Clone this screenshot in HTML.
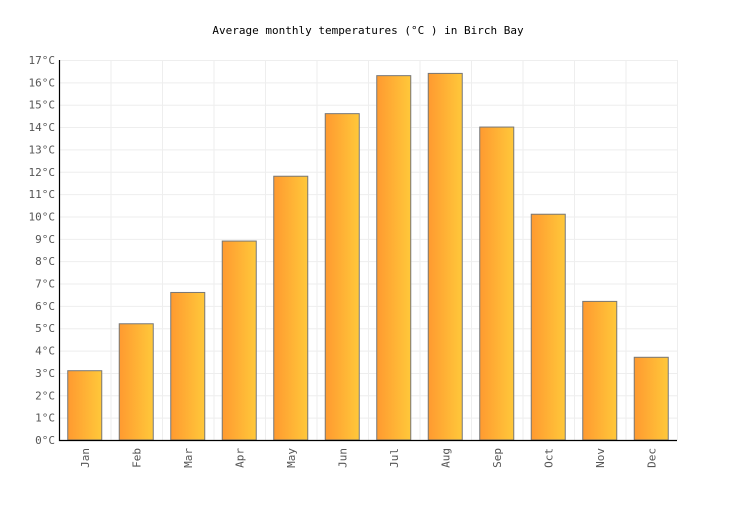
<!DOCTYPE html>
<html><head><meta charset="utf-8"><style>
body{margin:0;background:#fff;}
svg text{font-family:"DejaVu Sans Mono","Liberation Mono",monospace;}
</style></head><body>
<svg id="chart" width="736" height="500" xmlns="http://www.w3.org/2000/svg">
<defs><linearGradient id="g" x1="0" x2="1" y1="0" y2="0"><stop offset="0" stop-color="#ff9a30"/><stop offset="1" stop-color="#ffc83a"/></linearGradient></defs>
<text x="368" y="34" text-anchor="middle" font-size="11" fill="#000">Average monthly temperatures (°C ) in Birch Bay</text>
<g id="grid"></g><g id="bars"></g><g id="axes"></g>
</svg>
<script>
const months=["Jan","Feb","Mar","Apr","May","Jun","Jul","Aug","Sep","Oct","Nov","Dec"];
const temps=[3.1,5.2,6.6,8.9,11.8,14.6,16.3,16.4,14.0,10.1,6.2,3.7];
const yTicks=[0,1,2,3,4,5,6,7,8,9,10,11,12,13,14,15,16,17];
const NS="http://www.w3.org/2000/svg";
const L=59,R=677,T=60,B=440,yMax=17;
const y=v=>B-(v/yMax)*(B-T);
const band=(R-L)/months.length;
const x=i=>L+i*band;
function mk(t,a,p,txt){const e=document.createElementNS(NS,t);for(const k in a)e.setAttribute(k,a[k]);if(txt!==undefined)e.textContent=txt;document.getElementById(p).appendChild(e);return e;}
yTicks.forEach(v=>{
 const g=mk("line",{x1:L,x2:R,y1:y(v)+.5,y2:y(v)+.5,stroke:"#eee"},"grid");
 
 
 const t=mk("text",{x:L-4,y:y(v)+4,"text-anchor":"end","font-size":"11",fill:"#555"},"axes",v+"°C");
 
 
});
for(let i=1;i<=months.length;i++){
 const g=mk("line",{x1:x(i)+.5,x2:x(i)+.5,y1:T,y2:B,stroke:"#eee"},"grid");
 
 
}
months.forEach((m,i)=>{
 const cx=x(i)+band/2,w=34;
 const b=mk("rect",{x:cx-w/2,y:y(temps[i]),width:w,height:B-y(temps[i]),fill:"url(#g)",stroke:"#777","stroke-width":1},"bars");
 
 
 const t=mk("text",{x:0,y:0,"text-anchor":"end","font-size":"11",fill:"#555",transform:`translate(${cx+4},${B+8}) rotate(-90)`},"axes",m);
 
 
});
const ax=mk("path",{d:`M${L+.5},${T} V${B+.5} H${R}`,fill:"none",stroke:"#000","stroke-width":1.2},"axes");


</script>
</body></html>
